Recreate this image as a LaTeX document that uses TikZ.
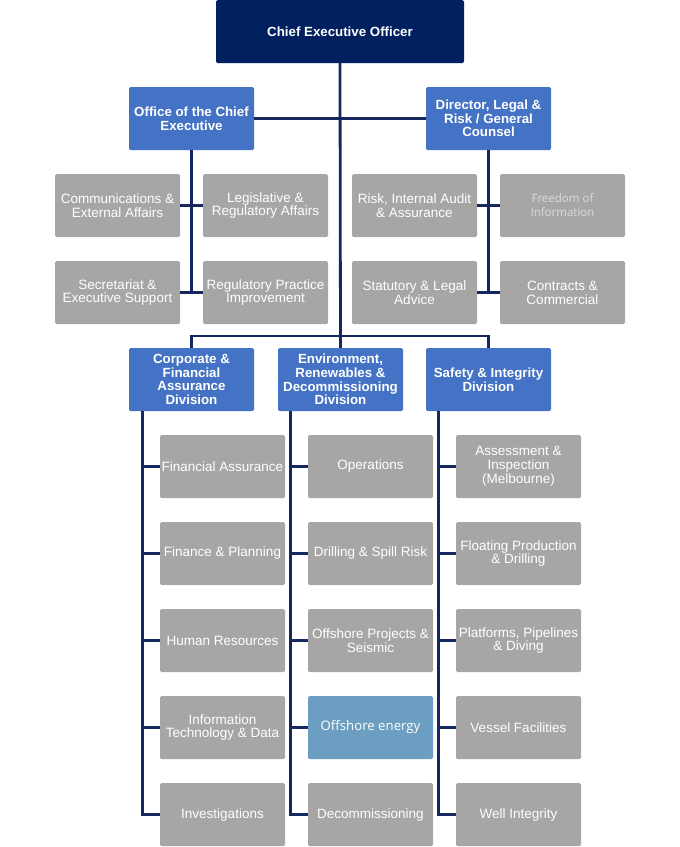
\documentclass[tikz,border=0pt]{standalone}
\usepackage{fontspec}
\setmainfont{Liberation Sans}
\newfontfamily\osans{Open Sans}
\definecolor{navy}{HTML}{002060}
\definecolor{linec}{HTML}{14285F}
\definecolor{bluebox}{HTML}{4472C4}
\definecolor{greybox}{HTML}{A8A5A5}
\definecolor{seabox}{HTML}{6B9EC1}
\definecolor{paletext}{HTML}{DCDCDC}
\begin{document}
\begin{tikzpicture}[x=1pt,y=-1pt,
  base/.style={minimum width=125pt,minimum height=63pt,inner sep=0pt,align=center,rounded corners=1.5pt,
    font=\fontsize{13.5}{13.8}\selectfont,text=white},
  headbox/.style={base,fill=bluebox,font=\fontsize{13.3}{13.6}\selectfont\bfseries},
  unitbox/.style={base,fill=greybox},
  conn/.style={draw=linec,line width=2.8pt}]
\useasboundingbox (0,0) rectangle (680,847);
% top
\node[base,fill=navy,minimum width=248pt,font=\fontsize{13.3}{13.6}\selectfont\bfseries] (ceo) at (340,31.5) {Chief Executive Officer};
\node[headbox] (office) at (191.5,118.5) {Office of the Chief\\Executive};
\node[headbox] (director) at (488.5,118.5) {Director, Legal \&\\Risk / General\\Counsel};
% office units
\node[unitbox] (comm) at (117.5,205.5) {Communications \&\\External Affairs};
\node[unitbox] (legis) at (265.5,205.5) {Legislative \&\\Regulatory Affairs};
\node[unitbox] (secr) at (117.5,292.5) {Secretariat \&\\Executive Support};
\node[unitbox] (regp) at (265.5,292.5) {Regulatory Practice\\Improvement};
% director units
\node[unitbox] (risk) at (414.5,205.5) {Risk, Internal Audit\\\& Assurance};
\node[unitbox,text=paletext,font=\osans\fontsize{11.5}{14}\selectfont] (foi) at (562.5,205.5) {Freedom of\\Information};
\node[unitbox] (stat) at (414.5,292.5) {Statutory \& Legal\\Advice};
\node[unitbox] (contr) at (562.5,292.5) {Contracts \&\\Commercial};
% divisions
\node[headbox] (corp) at (191.5,379.5) {Corporate \&\\Financial\\Assurance\\Division};
\node[headbox] (env) at (340.5,379.5) {Environment,\\Renewables \&\\Decommissioning\\Division};
\node[headbox] (safe) at (488.5,379.5) {Safety \& Integrity\\Division};
% corporate units
\node[unitbox] (c1) at (222.5,466.5) {Financial Assurance};
\node[unitbox] (c2) at (222.5,553.5) {Finance \& Planning};
\node[unitbox] (c3) at (222.5,640.5) {Human Resources};
\node[unitbox] (c4) at (222.5,727.5) {Information\\Technology \& Data};
\node[unitbox] (c5) at (222.5,814.5) {Investigations};
% environment units
\node[unitbox] (e1) at (370.5,466.5) {Operations};
\node[unitbox] (e2) at (370.5,553.5) {Drilling \& Spill Risk};
\node[unitbox] (e3) at (370.5,640.5) {Offshore Projects \&\\Seismic};
\node[base,fill=seabox,font=\osans\fontsize{13.2}{14}\selectfont] (e4) at (370.5,727.5) {Offshore energy};
\node[unitbox] (e5) at (370.5,814.5) {Decommissioning};
% safety units
\node[unitbox] (s1) at (518.5,466.5) {Assessment \&\\Inspection\\(Melbourne)};
\node[unitbox] (s2) at (518.5,553.5) {Floating Production\\\& Drilling};
\node[unitbox] (s3) at (518.5,640.5) {Platforms, Pipelines\\\& Diving};
\node[unitbox] (s4) at (518.5,727.5) {Vessel Facilities};
\node[unitbox] (s5) at (518.5,814.5) {Well Integrity};
% connectors
\coordinate (bus) at (340,336);
\draw[conn] (ceo.south) -- (env.north);
\draw[conn] (office.east) -- (director.west);
\draw[conn] (corp.north) |- (bus) -| (safe.north);
\draw[conn] (office.south) |- (comm.east);
\draw[conn] (office.south) |- (legis.west);
\draw[conn] (office.south) |- (secr.east);
\draw[conn] (office.south) |- (regp.west);
\draw[conn] (director.south) |- (risk.east);
\draw[conn] (director.south) |- (foi.west);
\draw[conn] (director.south) |- (stat.east);
\draw[conn] (director.south) |- (contr.west);
\foreach \k in {1,...,5}{
  \draw[conn] ([xshift=14pt]corp.south west) |- (c\k.west);
  \draw[conn] ([xshift=13pt]env.south west) |- (e\k.west);
  \draw[conn] ([xshift=13pt]safe.south west) |- (s\k.west);
}
\end{tikzpicture}
\end{document}
